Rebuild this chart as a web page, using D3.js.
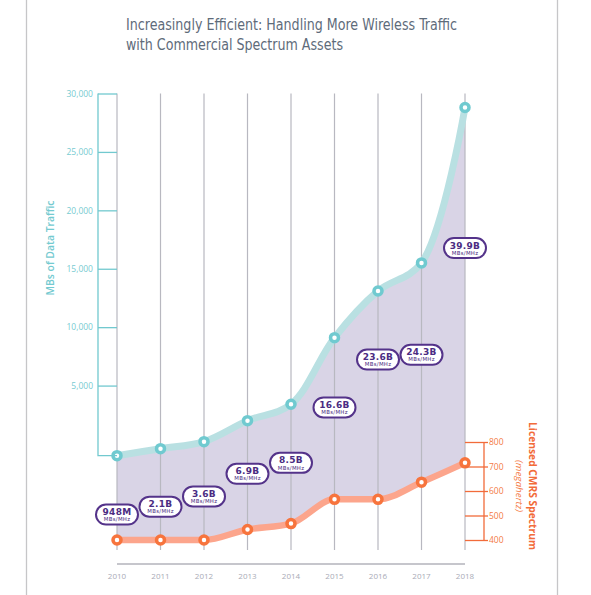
<!DOCTYPE html>
<html lang="en">
  <head>
    <meta charset="UTF-8" />
    <title>Increasingly Efficient: Handling More Wireless Traffic</title>
    <script src="https://cdn.jsdelivr.net/npm/d3@7/dist/d3.min.js"></script>
    <style>
      body {
        margin: 0;
        background: #fff;
      }
      text {
        font-family: "Open Sans", sans-serif;
      }
      .grid {
        stroke: #b8b8c0;
        stroke-width: 1.2px;
      }
      .bubble-value {
        font-family: "DejaVu Sans", sans-serif;
        font-weight: bold;
        font-size: 9px;
        fill: #4b2c82;
        letter-spacing: 0.3px;
      }
      .bubble-unit {
        font-family: "DejaVu Sans", sans-serif;
        font-size: 5.4px;
        fill: #4b2c82;
        letter-spacing: 0.3px;
      }
    </style>
  </head>
  <body>
    <svg width="591" height="595"></svg>
    <script>
      const svg = d3.select("svg"),
        width = +svg.attr("width"),
        height = +svg.attr("height");

      // data
      const years = [2010, 2011, 2012, 2013, 2014, 2015, 2016, 2017, 2018];
      const traffic = [-1000, -400, 200, 2000, 3400, 9100, 13100, 15500, 28800];
      const spectrum = [400, 400, 400, 443, 467, 566, 566, 636, 715];
      const efficiency = [0.948, 2.1, 3.6, 6.9, 8.5, 16.6, 23.6, 24.3, 39.9];
      const efficiencyLabels = ["948M", "2.1B", "3.6B", "6.9B", "8.5B", "16.6B", "23.6B", "24.3B", "39.9B"];
      const trafficTicks = [5000, 10000, 15000, 20000, 25000, 30000];
      const spectrumTicks = [400, 500, 600, 700, 800];
      const titleLines = [
        "Increasingly Efficient: Handling More Wireless Traffic",
        "with Commercial Spectrum Assets",
      ];

      const x = d3.scalePoint().domain(years).range([117, 465]);
      const yTraffic = d3.scaleLinear().domain([0, 30000]).range([444, 93.5]);
      const ySpectrum = d3.scaleLinear().domain([400, 800]).range([540, 442]);
      // bubbles sit on their own (hidden) efficiency scale, in billions MBs/MHz
      const yEff = d3.scaleLinear().domain([0, 40]).range([521, 247.4]);

      const rows = years.map((year, i) => ({
        year: year,
        traffic: traffic[i],
        spectrum: spectrum[i],
        eff: efficiency[i],
        label: efficiencyLabels[i],
      }));

      const trafficLine = d3
        .line()
        .x((d) => x(d.year))
        .y((d) => yTraffic(d.traffic))
        .curve(d3.curveCatmullRom.alpha(0.5));
      const spectrumLine = d3
        .line()
        .x((d) => x(d.year))
        .y((d) => ySpectrum(d.spectrum))
        .curve(d3.curveMonotoneX);

      // card border
      svg
        .append("g")
        .selectAll("line")
        .data([26.5, 557.5])
        .enter()
        .append("line")
        .attr("x1", (d) => d)
        .attr("x2", (d) => d)
        .attr("y1", 0)
        .attr("y2", height)
        .attr("stroke", "#c6c6c8")
        .attr("stroke-width", 1.3);

      // title
      svg
        .append("g")
        .selectAll("text")
        .data(titleLines)
        .enter()
        .append("text")
        .attr("x", 126)
        .attr("y", (d, i) => 29.5 + i * 20.5)
        .attr("textLength", (d, i) => (i === 0 ? 331 : 217))
        .attr("lengthAdjust", "spacingAndGlyphs")
        .style("font-family", '"Liberation Sans Narrow", "DejaVu Sans Condensed", "Open Sans", sans-serif')
        .style("font-size", "16px")
        .attr("fill", "#5e6b7a")
        .text((d) => d);

      // purple band between the two series (top curve, then bottom curve backwards)
      const bandPath =
        trafficLine(rows) +
        "L" +
        spectrumLine(rows.slice().reverse()).slice(1) +
        "Z";
      svg.append("path").attr("d", bandPath).attr("fill", "#d9d4e6");

      // vertical year grid
      svg
        .append("g")
        .selectAll("line")
        .data(years)
        .enter()
        .append("line")
        .attr("class", "grid")
        .attr("x1", (d) => x(d))
        .attr("x2", (d) => x(d))
        .attr("y1", yTraffic(30000))
        .attr("y2", ySpectrum(400) + 10);

      // bottom rule + year labels
      svg
        .append("line")
        .attr("x1", x(years[0]))
        .attr("x2", x(years[years.length - 1]))
        .attr("y1", 564)
        .attr("y2", 564)
        .attr("stroke", "#b3b3bb")
        .attr("stroke-width", 1.4);

      svg
        .append("g")
        .selectAll("text")
        .data(years)
        .enter()
        .append("text")
        .attr("x", (d) => x(d))
        .attr("y", 579)
        .attr("text-anchor", "middle")
        .style("font-size", "8px")
        .attr("fill", "#a9abb6")
        .text((d) => d);

      // series lines
      svg
        .append("path")
        .datum(rows)
        .attr("d", trafficLine)
        .attr("fill", "none")
        .attr("stroke", "#b9e0e2")
        .attr("stroke-width", 7);

      svg
        .append("path")
        .datum(rows)
        .attr("d", spectrumLine)
        .attr("fill", "none")
        .attr("stroke", "#fca58c")
        .attr("stroke-width", 6.5);

      svg
        .append("g")
        .selectAll("circle")
        .data(rows)
        .enter()
        .append("circle")
        .attr("cx", (d) => x(d.year))
        .attr("cy", (d) => yTraffic(d.traffic))
        .attr("r", 4)
        .attr("fill", "#fff")
        .attr("stroke", "#70cad0")
        .attr("stroke-width", 3.5);

      svg
        .append("g")
        .selectAll("circle")
        .data(rows)
        .enter()
        .append("circle")
        .attr("cx", (d) => x(d.year))
        .attr("cy", (d) => ySpectrum(d.spectrum))
        .attr("r", 4)
        .attr("fill", "#fff")
        .attr("stroke", "#f7743d")
        .attr("stroke-width", 3.5);

      // efficiency bubbles
      const bubble = svg
        .append("g")
        .selectAll("g")
        .data(rows)
        .enter()
        .append("g")
        .attr("transform", (d) => `translate(${x(d.year)},${yEff(d.eff)})`);

      bubble
        .append("rect")
        .attr("x", -21)
        .attr("y", -10)
        .attr("width", 42)
        .attr("height", 20)
        .attr("rx", 10)
        .attr("fill", "#fff")
        .attr("stroke", "#54338a")
        .attr("stroke-width", 2);

      bubble
        .append("text")
        .attr("class", "bubble-value")
        .attr("y", 0.5)
        .attr("text-anchor", "middle")
        .text((d) => d.label);

      bubble
        .append("text")
        .attr("class", "bubble-unit")
        .attr("y", 6.7)
        .attr("text-anchor", "middle")
        .text("MBs/MHz");

      // left axis (traffic)
      const leftAxis = svg
        .append("g")
        .attr("transform", "translate(98,0)")
        .call(
          d3
            .axisLeft(yTraffic)
            .tickValues(trafficTicks)
            .tickSizeInner(-19)
            .tickSizeOuter(0)
            .tickPadding(5)
            .tickFormat(d3.format(","))
        );
      leftAxis.select(".domain").remove();
      leftAxis.selectAll(".tick line").attr("stroke", "#72c9cf").attr("stroke-width", 1.3);
      leftAxis
        .selectAll(".tick text")
        .attr("fill", "#78cbd1")
        .style("font-family", '"Open Sans", sans-serif')
        .style("font-size", "8.5px");

      leftAxis
        .append("path")
        .attr("d", `M0,${yTraffic(30000)}V${yTraffic(traffic[0])}H${x(years[0]) - 98}`)
        .attr("fill", "none")
        .attr("stroke", "#72c9cf")
        .attr("stroke-width", 1.3);

      svg
        .append("text")
        .attr("transform", "translate(50,248) rotate(-90)")
        .attr("dy", "0.35em")
        .attr("text-anchor", "middle")
        .attr("textLength", 95)
        .attr("lengthAdjust", "spacingAndGlyphs")
        .style("font-size", "10.5px")
        .style("font-weight", 600)
        .attr("fill", "#74cad0")
        .text("MBs of Data Traffic");

      // right axis (spectrum)
      const rightAxis = svg
        .append("g")
        .attr("transform", `translate(${x(years[years.length - 1])},0)`)
        .call(
          d3
            .axisRight(ySpectrum)
            .tickValues(spectrumTicks)
            .tickSizeInner(23)
            .tickSizeOuter(0)
            .tickPadding(1)
        );
      rightAxis.select(".domain").remove();
      rightAxis.selectAll(".tick line").attr("stroke", "#f26b3a").attr("stroke-width", 1.3);
      rightAxis
        .selectAll(".tick text")
        .attr("fill", "#f47a45")
        .style("font-family", '"Open Sans", sans-serif')
        .style("font-size", "8.5px");

      rightAxis
        .append("line")
        .attr("x1", 19)
        .attr("x2", 19)
        .attr("y1", ySpectrum(800))
        .attr("y2", ySpectrum(400))
        .attr("stroke", "#f26b3a")
        .attr("stroke-width", 1.3);

      svg
        .append("text")
        .attr("transform", "translate(532.5,486) rotate(90)")
        .attr("dy", "0.35em")
        .attr("text-anchor", "middle")
        .attr("textLength", 128)
        .attr("lengthAdjust", "spacingAndGlyphs")
        .style("font-size", "11px")
        .style("font-weight", "bold")
        .attr("fill", "#f26b3a")
        .text("Licensed CMRS Spectrum");

      svg
        .append("text")
        .attr("transform", "translate(519,486) rotate(90)")
        .attr("dy", "0.35em")
        .attr("text-anchor", "middle")
        .attr("textLength", 52)
        .attr("lengthAdjust", "spacingAndGlyphs")
        .style("font-size", "8.5px")
        .style("font-style", "italic")
        .attr("fill", "#f47a45")
        .text("(megahertz)");
    </script>
  </body>
</html>
